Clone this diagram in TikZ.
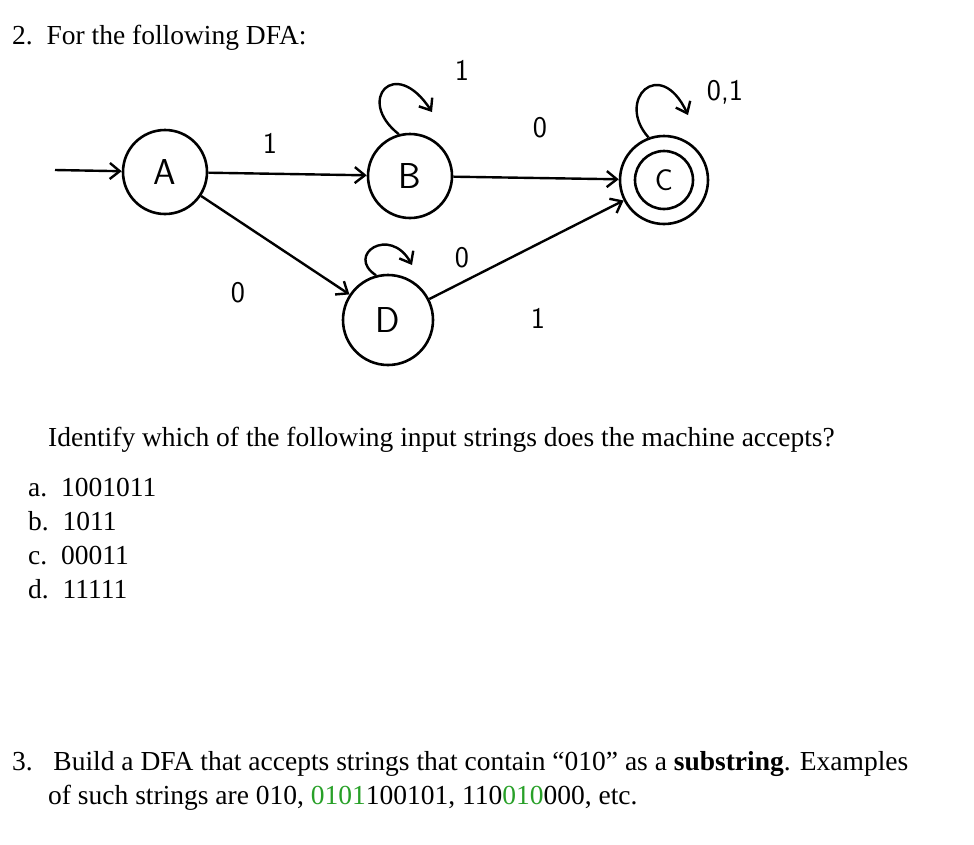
\documentclass[tikz,border=0pt]{standalone}
\usepackage{fontspec}
\setmainfont{Liberation Serif}
\usetikzlibrary{arrows.meta}
\definecolor{grn}{RGB}{40,160,40}
\begin{document}
\begin{tikzpicture}[x=1pt,y=-1pt,
 st/.style={circle,draw,line width=2.6pt,minimum size=84pt,inner sep=0pt,font=\fontsize{36}{36}\sffamily},
 ed/.style={line width=2.4pt,-{Straight Barb[length=10pt,width=16pt,line width=2.4pt]}},
 lb/.style={font=\fontsize{30}{30}\sffamily},
 tx/.style={anchor=base west,inner sep=0pt,font=\fontsize{27.5}{32}\selectfont}]
\useasboundingbox (0,0) rectangle (974,844);
\node[st] (A) at (165,172) {A};
\node[st] (B) at (410,176) {B};
\node[st,minimum size=88pt] (C) at (664,180) {};
\node[circle,draw,line width=2.6pt,minimum size=58pt,inner sep=0pt,font=\fontsize{30}{30}\sffamily] (Ci) at (664,180) {C};
\node[st,minimum size=90pt] (D) at (388,320) {D};
\coordinate (s) at (55,170);
\draw[ed] (s) -- (A);
\draw[ed] (A) -- (B);
\draw[ed] (B) -- (C);
\draw[ed] (A) -- (D);
\draw[ed] (D) -- (C);
\node[lb] (l1) at (270,143) {1};
\node[lb] (l2) at (540,128) {0};
\node[lb] (l3) at (238,293) {0};
\node[lb] (l4) at (538,318) {1};
\draw[ed] (B.105) .. controls (355,100) and (395,55) .. (432,112);
\node[lb] (lB) at (462,70) {1};
\draw[ed] (C.110) .. controls (615,100) and (660,55) .. (688,115);
\node[lb] (lC) at (725,92) {0,1};
\draw[ed] (D.105) .. controls (345,255) and (390,225) .. (412,265);
\node[lb] (lD) at (462,258) {0};
\node[tx] (t1) at (12,44) {2.\ \ For the following DFA:};
\node[tx] (t2) at (48,446) {Identify which of the following input strings does the machine accepts?};
\node[tx] (a) at (28,496) {a.\ \ 1001011};
\node[tx] (b) at (28,530) {b.\ \ 1011};
\node[tx] (c) at (28,564) {c.\ \ 00011};
\node[tx] (d) at (28,598) {d.\ \ 11111};
\node[tx] (t3) at (12,770) {3.\ \ \ Build a DFA that accepts strings that contain “010” as a \textbf{substring}. Examples};
\node[tx] (t4) at (48,804) {of such strings are 010, \textcolor{grn}{0101}100101, 110\textcolor{grn}{010}000, etc.};
\end{tikzpicture}
\end{document}
